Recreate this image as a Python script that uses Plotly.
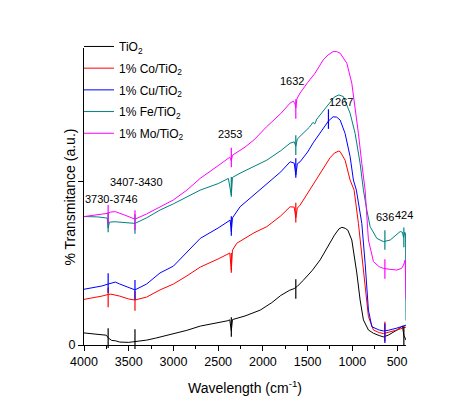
import plotly.graph_objects as go

# ---------------- data ----------------
names = ["TiO<sub>2</sub>", "1% Co/TiO<sub>2</sub>", "1% Cu/TiO<sub>2</sub>",
         "1% Fe/TiO<sub>2</sub>", "1% Mo/TiO<sub>2</sub>"]
colors = ["#000000", "#ff0000", "#0000ff", "#008080", "#ff00ff"]

wn_tio2 = [4000, 3900, 3800, 3750, 3730, 3710, 3690, 3650, 3600, 3500, 3430, 3300, 3200,
           3000, 2850, 2700, 2500, 2400, 2370, 2353, 2340, 2300, 2200, 2030, 1900, 1800,
           1700, 1650, 1632, 1615, 1550, 1450, 1360, 1300, 1250, 1200, 1150, 1117, 1080,
           1050, 1006, 950, 913, 876, 820, 764, 700, 652, 600, 560, 500, 460, 440, 424,
           410, 400]
t_tio2 = [3.7, 3.5, 3.2, 3.0, 2.2, 1.8, 1.4, 1.3, 0.9, 0.8, 1.0, 1.5, 2.1,
          3.4, 4.5, 5.8, 6.8, 7.4, 7.7, 4.4, 7.8, 8.1, 8.9, 10.7, 13.0, 15.2,
          16.8, 17.3, 17.6, 18.0, 19.8, 22.8, 26.1, 29.1, 31.6, 33.7, 35.6, 36.1, 35.8,
          35.2, 32.2, 22.1, 13.8, 7.7, 4.6, 3.6, 2.9, 2.5, 3.0, 3.6, 4.6, 5.4, 5.8, 3.0,
          2.3, 1.5]

wn_co = [4000, 3900, 3800, 3730, 3700, 3600, 3500, 3430, 3300, 3150, 3000, 2850, 2700,
         2500, 2400, 2370, 2353, 2340, 2292, 2200, 2100, 1956, 1800, 1696, 1650, 1632,
         1615, 1584, 1500, 1400, 1360, 1300, 1250, 1200, 1150, 1136, 1100, 1081, 1025,
         980, 932, 894, 857, 820, 764, 700, 652, 600, 500, 424, 400]
t_co = [14.0, 14.4, 15.0, 15.5, 15.6, 15.0, 14.1, 13.8, 14.7, 16.9, 18.7, 21.2, 23.9,
        26.4, 27.9, 28.2, 23.0, 29.1, 31.2, 32.8, 34.4, 36.3, 39.6, 42.4, 42.3, 39.0,
        42.0, 42.9, 46.6, 51.2, 52.8, 55.5, 57.4, 58.9, 59.5, 59.3, 57.6, 56.7, 50.6,
        47.5, 37.3, 27.1, 16.9, 8.7, 4.6, 3.8, 3.5, 3.8, 4.6, 5.3, 5.5]

wn_cu = [4000, 3900, 3800, 3730, 3700, 3650, 3600, 3500, 3430, 3300, 3150, 3000, 2850,
         2700, 2500, 2400, 2366, 2353, 2340, 2255, 2100, 1956, 1800, 1696, 1650, 1632,
         1615, 1584, 1500, 1438, 1350, 1285, 1267, 1215, 1175, 1136, 1081, 1025, 988,
         955, 894, 857, 820, 782, 700, 652, 600, 500, 424, 400]
t_cu = [17.1, 17.5, 18.1, 18.7, 19.0, 19.3, 18.7, 17.5, 16.9, 18.7, 22.1, 24.2, 28.5,
        32.7, 35.9, 37.7, 38.3, 34.8, 39.0, 42.4, 46.0, 49.6, 53.1, 56.2, 55.8, 52.1,
        55.6, 56.2, 59.2, 62.0, 65.3, 68.0, 68.7, 70.0, 69.9, 69.0, 64.9, 57.8, 50.6,
        47.5, 37.3, 25.1, 10.7, 5.6, 4.6, 4.3, 4.5, 5.2, 5.9, 6.1]

wn_fe = [4000, 3850, 3760, 3740, 3730, 3715, 3650, 3550, 3430, 3300, 3150, 3000, 2850,
         2702, 2500, 2386, 2353, 2340, 2255, 2100, 1956, 1800, 1696, 1650, 1632, 1615,
         1509, 1480, 1440, 1420, 1397, 1300, 1267, 1200, 1150, 1100, 1025, 969, 913,
         876, 838, 801, 726, 652, 577, 520, 465, 440, 428, 415, 405, 400]
t_fe = [39.4, 39.3, 39.0, 38.9, 35.9, 37.7, 37.8, 37.6, 37.3, 39.0, 41.4, 43.3, 45.4,
        47.5, 49.5, 51.1, 46.0, 51.4, 52.7, 54.7, 56.7, 59.6, 61.9, 62.3, 61.0, 63.2,
        66.0, 66.8, 68.3, 67.8, 69.3, 72.7, 73.9, 76.1, 76.7, 76.2, 71.1, 64.9, 55.7,
        47.5, 41.4, 36.3, 32.7, 31.7, 32.2, 33.5, 34.8, 34.6, 33.0, 34.6, 34.3, 7.5]

wn_mo = [4000, 3850, 3760, 3730, 3700, 3650, 3550, 3430, 3300, 3150, 3000, 2850, 2702,
         2500, 2370, 2353, 2340, 2200, 2100, 1956, 1800, 1696, 1660, 1640, 1632, 1620,
         1584, 1500, 1416, 1327, 1270, 1215, 1175, 1136, 1103, 1061, 1006, 969, 932,
         894, 857, 820, 764, 700, 652, 577, 502, 450, 428, 409, 400]
t_mo = [39.4, 39.9, 40.3, 40.4, 40.8, 40.9, 39.9, 38.6, 40.2, 42.4, 44.5, 47.5, 51.1,
        55.0, 57.6, 56.5, 58.2, 60.7, 62.9, 67.0, 71.0, 74.2, 74.8, 73.9, 72.7, 75.5,
        77.3, 80.5, 83.4, 87.4, 89.0, 90.0, 90.0, 89.5, 88.0, 86.4, 80.3, 73.1, 64.9,
        55.7, 47.5, 32.2, 25.6, 24.0, 23.5, 23.2, 23.0, 23.5, 24.5, 26.1, 14.0]

# band markers (vertical ticks) on each spectrum
mk_tio2_x = [3730, 3430, 2353, 1632, 424]
mk_tio2_y = [2.1, 1.8, 5.5, 17.2, 2.8]
mk_co_x = [3730, 3430, 2353, 1632, 636]
mk_co_y = [14.6, 13.5, 25.2, 40.6, 4.1]
mk_cu_x = [3730, 3430, 2353, 1632, 1267, 636]
mk_cu_y = [19.0, 16.9, 36.5, 54.3, 69.3, 3.6]
mk_fe_x = [3730, 3430, 2353, 1632, 636, 424]
mk_fe_y = [37.6, 37.1, 48.5, 61.3, 32.2, 33.0]
mk_mo_x = [3730, 3430, 2353, 1632, 636]
mk_mo_y = [39.9, 38.3, 57.5, 72.4, 23.3]

# band labels
lbl_text = ["3730-3746", "3407-3430", "2353", "1632", "1267", "636", "424"]
lbl_x = [3698, 3418, 2367, 1673, 1125, 633, 421]
lbl_y = [44.8, 50.0, 64.7, 81.0, 74.5, 39.3, 39.9]

x_ticks = [4000, 3500, 3000, 2500, 2000, 1500, 1000, 500]
y_ticks = [0]
y_minor_ticks = [50]

# ---------------- figure ----------------
FONT = "Arial, Liberation Sans, sans-serif"
NARROW = "Liberation Sans Narrow, Arial Narrow, " + FONT
spectra = [(wn_tio2, t_tio2), (wn_co, t_co), (wn_cu, t_cu), (wn_fe, t_fe), (wn_mo, t_mo)]
marks = [(mk_tio2_x, mk_tio2_y), (mk_co_x, mk_co_y), (mk_cu_x, mk_cu_y),
         (mk_fe_x, mk_fe_y), (mk_mo_x, mk_mo_y)]

fig = go.Figure()
for i, ((wx, wy), name, col) in enumerate(zip(spectra, names, colors)):
    fig.add_trace(go.Scatter(x=wx, y=wy, mode="lines", name=name,
                             legendgroup=f"g{i}",
                             line=dict(color=col, width=1)))
for (mx, my), col in zip(marks, colors):
    fig.add_trace(go.Scatter(x=mx, y=my, mode="markers", showlegend=False,
                             cliponaxis=False, hoverinfo="skip",
                             marker=dict(symbol="line-ns", size=14, color=col,
                                         line=dict(color=col, width=1.2))))

for t, x, y in zip(lbl_text, lbl_x, lbl_y):
    fig.add_annotation(x=x, y=y, text=t, showarrow=False, xanchor="center",
                       yanchor="middle", font=dict(family=FONT, size=11, color="#000"))

fig.add_annotation(xref="paper", yref="paper", x=-0.0435, y=0.5, text="% Transmitance (a.u.)",
                   textangle=-90, showarrow=False, xanchor="center", yanchor="middle",
                   font=dict(family=FONT, size=14, color="#000"))
fig.add_annotation(xref="paper", yref="paper", x=0.5, y=-0.1414,
                   text="Wavelength (cm<sup>-1</sup>)", showarrow=False,
                   xanchor="center", yanchor="middle",
                   font=dict(family=FONT, size=14, color="#000"))

fig.update_layout(
    width=470, height=414,
    margin=dict(l=84, r=64, t=48, b=69),
    paper_bgcolor="white", plot_bgcolor="white",
    font=dict(family=FONT, color="#000"),
    showlegend=True,
    legend=dict(x=-0.0155, xanchor="left", y=1.054, yanchor="top",
                bgcolor="rgba(0,0,0,0)", font=dict(family=FONT, size=12),
                tracegroupgap=2.7, itemwidth=30),
    xaxis=dict(range=[4000, 400], tickvals=x_ticks, showgrid=False, zeroline=False,
               showline=True, linecolor="#000", linewidth=1, ticks="outside",
               ticklen=5, tickcolor="#000",
               tickfont=dict(family=NARROW, size=12.5),
               minor=dict(dtick=250, ticks="outside", ticklen=3, tickcolor="#000")),
    yaxis=dict(range=[0, 91.1], tickvals=y_ticks, showgrid=False,
               zeroline=False, showline=True, linecolor="#000", linewidth=1,
               ticks="outside", ticklen=5, tickcolor="#000",
               tickfont=dict(family=NARROW, size=12.5),
               minor=dict(tickvals=y_minor_ticks, ticks="outside", ticklen=5,
                          tickcolor="#000")),
)

fig.write_html("out.html")
